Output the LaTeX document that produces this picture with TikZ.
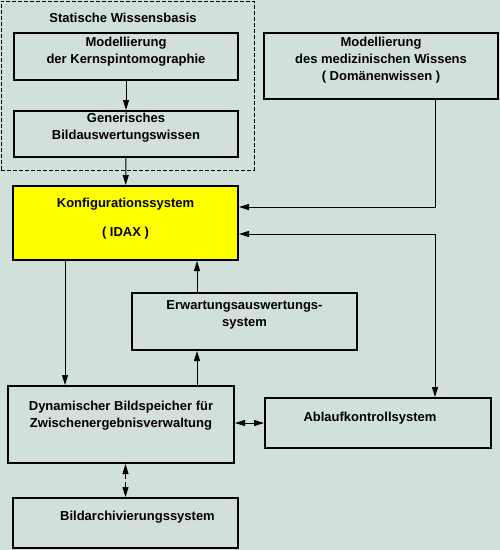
\documentclass[tikz,border=0pt]{standalone}
\usepackage{fontspec}
\setmainfont{Liberation Sans}
\usetikzlibrary{arrows.meta}
\definecolor{bgcol}{RGB}{209,224,216}
\definecolor{idaxyellow}{RGB}{255,255,0}

\begin{document}
\begin{tikzpicture}[x=1pt,y=-1pt]

\tikzset{box/.style = {draw, line width=2pt, inner sep=0pt, align=center, text depth=15pt, font=\fontsize{13}{17}\selectfont\bfseries}}
\tikzset{edge/.style = {-{Triangle[length=10pt,width=6pt]}, line width=1pt}}
\tikzset{both/.style = {{Triangle[length=10pt,width=6pt]}-{Triangle[length=10pt,width=6pt]}}}
\tikzset{group/.style = {draw, line width=1pt, dash pattern=on 4pt off 2pt}}
%background
\fill[bgcol] (0,0) rectangle (500,550);
\useasboundingbox (0,0) rectangle (500,550);
%static knowledge
\node[group, minimum width=253pt, minimum height=169pt] (wb) at (127.5,85.5) {};
\node[font=\fontsize{13}{17}\selectfont\bfseries] (wbtitle) at (123,18) {Statische Wissensbasis};
%boxes
\node[box, minimum width=224pt, minimum height=47pt, text depth=12pt] (kern) at (126,56.5) {Modellierung\\der Kernspintomographie};
\node[box, minimum width=224pt, minimum height=46pt] (gen) at (126,134) {Generisches\\Bildauswertungswissen};
\node[box, minimum width=234pt, minimum height=66pt] (med) at (381,66) {Modellierung\\des medizinischen Wissens\\( Domänenwissen )};
\node[box, fill=idaxyellow, minimum width=225pt, minimum height=74pt, text depth=12pt] (konfig) at (125.5,223) {Konfigurationssystem\\[12pt]( IDAX )};
\node[box, minimum width=225pt, minimum height=57pt] (erw) at (244.5,321.5) {Erwartungsauswertungs-\\system};
\node[box, minimum width=226pt, minimum height=77pt, text depth=20pt] (dyn) at (121,424.5) {Dynamischer Bildspeicher für\\Zwischenergebnisverwaltung};
\node[box, minimum width=226pt, minimum height=50pt, text depth=13pt] (abl) at (378,423) {\hspace*{-16pt}Ablaufkontrollsystem};
\node[box, minimum width=225pt, minimum height=50pt] (bild) at (125.5,523) {\hspace*{24pt}Bildarchivierungssystem};
%rails
\coordinate (rail) at (435,0);
\coordinate (upline) at (197,0);
\coordinate (downline) at (65,0);
%edges
\draw[edge] (kern) -- (gen);
\draw[edge] (gen) -- (konfig);
\draw[edge] (med.south -| rail) |- ([yshift=16pt]konfig.east);
\draw[edge, both] (abl.north -| rail) |- ([yshift=-11pt]konfig.east);
\draw[edge] (erw.north -| upline) -- (konfig.south -| upline);
\draw[edge] (dyn.north -| upline) -- (erw.south -| upline);
\draw[edge] (konfig.south -| downline) -- (dyn.north -| downline);
\draw[edge, both] (dyn.east |- abl.west) -- (abl.west);
\draw[edge, both, dash pattern=on 5pt off 3pt] (dyn.south -| bild.north) -- (bild.north);

\end{tikzpicture}
\end{document}
